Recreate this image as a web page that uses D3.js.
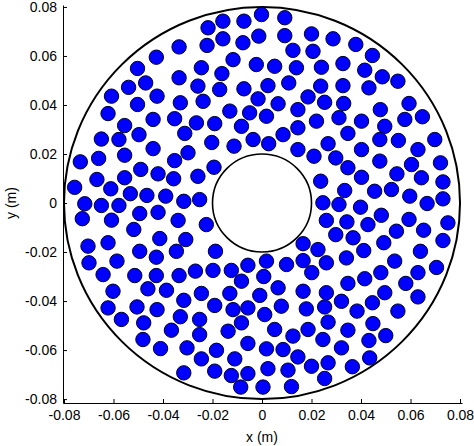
<!DOCTYPE html>
<html>
<head>
<meta charset="utf-8">
<script src="https://cdn.jsdelivr.net/npm/d3@7"></script>
<style>
  body { margin: 0; background: #fff; }
  svg { display: block; }
  .tick text, .label { font-family: "Liberation Sans", Arial, sans-serif; font-size: 14px; fill: #000; }
</style>
</head>
<body>
<svg id="chart" width="474" height="446"></svg>
<script>
// particle centres (m)
const px = [
  -0.0335,-0.0427,-0.0503,-0.0335,-0.0470,-0.0539,-0.0608,-0.0424,-0.0503,-0.0330,
  -0.0622,-0.0440,-0.0353,-0.0555,-0.0312,-0.0497,-0.0649,-0.0578,-0.0265,-0.0734,
  -0.0660,-0.0555,-0.0440,-0.0353,-0.0299,-0.0490,-0.0420,-0.0667,-0.0555,-0.0357,
  -0.0757,-0.0611,-0.0532,-0.0465,-0.0389,-0.0316,-0.0716,-0.0649,-0.0578,-0.0494,
  -0.0420,-0.0726,-0.0608,-0.0339,-0.0518,-0.0413,-0.0308,-0.0703,-0.0622,-0.0494,
  -0.0346,-0.0427,-0.0699,-0.0586,-0.0642,-0.0514,-0.0427,-0.0335,-0.0602,-0.0461,
  -0.0386,-0.0316,-0.0622,-0.0505,-0.0424,-0.0330,-0.0568,-0.0478,-0.0366,-0.0481,
  -0.0410,-0.0303,-0.0316,-0.0218,-0.0158,-0.0073,-0.0002, 0.0092,-0.0222,-0.0158,
  -0.0077,-0.0013, 0.0092, 0.0200,-0.0117,-0.0023, 0.0051, 0.0125, 0.0206,-0.0245,
  -0.0162, 0.0139, 0.0240,-0.0259,-0.0171,-0.0073, 0.0024, 0.0108, 0.0237,-0.0238,
  -0.0016, 0.0065, 0.0186, 0.0253,-0.0130,-0.0050, 0.0018, 0.0145,-0.0191,-0.0083,
   0.0220, 0.0085, 0.0145,-0.0203,-0.0113,-0.0036, 0.0027, 0.0145, 0.0210, 0.0267,
  -0.0259,-0.0194, 0.0237,-0.0252, 0.0246,-0.0225, 0.0260, 0.0166, 0.0226,-0.0188,
   0.0018,-0.0057, 0.0099, 0.0166, 0.0260,-0.0198,-0.0124, 0.0007, 0.0201,-0.0083,
   0.0065,-0.0245,-0.0130,-0.0009, 0.0166, 0.0260,-0.0191,-0.0117,-0.0057, 0.0078,
   0.0179, 0.0253,-0.0252,-0.0083, 0.0011, 0.0267,-0.0137, 0.0051, 0.0186, 0.0125,
  -0.0252,-0.0057, 0.0246,-0.0184, 0.0018, 0.0085, 0.0145,-0.0245,-0.0110, 0.0200,
   0.0267,-0.0191,-0.0124,-0.0057, 0.0024, 0.0105, 0.0253,-0.0086, 0.0004, 0.0119,
   0.0287, 0.0379, 0.0446, 0.0327, 0.0415, 0.0486, 0.0549, 0.0327, 0.0432, 0.0330,
   0.0594, 0.0478, 0.0311, 0.0402, 0.0577, 0.0648, 0.0496, 0.0347, 0.0476, 0.0551,
   0.0698, 0.0630, 0.0402, 0.0298, 0.0476, 0.0604, 0.0721, 0.0347, 0.0402, 0.0545,
   0.0644, 0.0731, 0.0334, 0.0455, 0.0523, 0.0597, 0.0731, 0.0667, 0.0311, 0.0398,
   0.0482, 0.0594, 0.0751, 0.0343, 0.0428, 0.0543, 0.0653, 0.0298, 0.0368, 0.0492,
   0.0731, 0.0411, 0.0640, 0.0341, 0.0536, 0.0705, 0.0480, 0.0630, 0.0415, 0.0347,
   0.0581, 0.0496, 0.0630, 0.0321, 0.0446, 0.0384, 0.0549, 0.0448, 0.0347, 0.0500,
   0.0432, 0.0321, 0.0435, 0.0365,-0.0269
];
const py = [
   0.0637, 0.0595, 0.0549, 0.0511, 0.0490, 0.0472, 0.0436, 0.0436, 0.0402, 0.0409,
   0.0365, 0.0341, 0.0344, 0.0316, 0.0284, 0.0279, 0.0261, 0.0259, 0.0327, 0.0168,
   0.0182, 0.0195, 0.0222, 0.0173, 0.0205, 0.0137, 0.0119, 0.0096, 0.0103, 0.0099,
   0.0064, 0.0058, 0.0038, 0.0031, 0.0028, 0.0007,-0.0003,-0.0010,-0.0010,-0.0043,
  -0.0038,-0.0064,-0.0070,-0.0071,-0.0108,-0.0145,-0.0149,-0.0176,-0.0162,-0.0197,
  -0.0197,-0.0221,-0.0244,-0.0237,-0.0292,-0.0296,-0.0296,-0.0296,-0.0360,-0.0350,
  -0.0356,-0.0397,-0.0428,-0.0424,-0.0435,-0.0464,-0.0475,-0.0489,-0.0519,-0.0557,
  -0.0594,-0.0591,-0.0693, 0.0715, 0.0742, 0.0742, 0.0769, 0.0756, 0.0643, 0.0670,
   0.0654, 0.0681, 0.0683, 0.0690, 0.0585, 0.0565, 0.0558, 0.0623, 0.0619, 0.0552,
   0.0528, 0.0552, 0.0554, 0.0477, 0.0463, 0.0466, 0.0479, 0.0490, 0.0477, 0.0415,
   0.0425, 0.0405, 0.0433, 0.0411, 0.0375, 0.0368, 0.0354, 0.0381, 0.0324, 0.0313,
   0.0334, 0.0279, 0.0307, 0.0247, 0.0232, 0.0259, 0.0242, 0.0218, 0.0191, 0.0242,
   0.0109, 0.0146, 0.0089, 0.0014, 0.0001,-0.0088,-0.0071,-0.0166,-0.0190,-0.0197,
  -0.0237,-0.0254,-0.0251,-0.0235,-0.0244,-0.0275,-0.0275,-0.0300,-0.0284,-0.0319,
  -0.0346,-0.0369,-0.0369,-0.0377,-0.0360,-0.0366,-0.0418,-0.0435,-0.0428,-0.0421,
  -0.0432,-0.0424,-0.0475,-0.0489,-0.0455,-0.0486,-0.0523,-0.0516,-0.0516,-0.0543,
  -0.0537,-0.0573,-0.0557,-0.0601,-0.0595,-0.0598,-0.0628,-0.0636,-0.0636,-0.0666,
  -0.0652,-0.0686,-0.0704,-0.0696,-0.0676,-0.0682,-0.0716,-0.0751,-0.0751,-0.0749,
   0.0670, 0.0647, 0.0602, 0.0569, 0.0542, 0.0515, 0.0497, 0.0479, 0.0470, 0.0406,
   0.0406, 0.0381, 0.0348, 0.0334, 0.0341, 0.0352, 0.0313, 0.0284, 0.0259, 0.0255,
   0.0259, 0.0218, 0.0218, 0.0184, 0.0171, 0.0157, 0.0164, 0.0144, 0.0105, 0.0119,
   0.0103, 0.0086, 0.0051, 0.0048, 0.0055, 0.0028, 0.0017,-0.0002,-0.0006,-0.0017,
  -0.0050,-0.0067,-0.0081,-0.0077,-0.0088,-0.0115,-0.0111,-0.0129,-0.0142,-0.0162,
  -0.0153,-0.0194,-0.0197,-0.0224,-0.0237,-0.0263,-0.0284,-0.0284,-0.0309,-0.0328,
  -0.0328,-0.0366,-0.0383,-0.0401,-0.0407,-0.0441,-0.0441,-0.0492,-0.0519,-0.0541,
  -0.0561,-0.0591,-0.0632,-0.0668,-0.0278
];
const ringRadii = [0.08, 0.02];   // outer wall, inner core
const xTicks = [-0.08, -0.06, -0.04, -0.02, 0, 0.02, 0.04, 0.06, 0.08];
const yTicks = [-0.08, -0.06, -0.04, -0.02, 0, 0.02, 0.04, 0.06, 0.08];

const svg = d3.select("#chart");

const x = d3.scaleLinear().domain([-0.0804, 0.0808]).range([63, 462]);
const y = d3.scaleLinear().domain([-0.0816, 0.0808]).range([403, 5]);

const fmt = d => d === 0 ? "0" : d.toFixed(2);

// axes (matlab style, ticks inward)
svg.append("g")
  .attr("transform", `translate(0,${y.range()[0]})`)
  .call(d3.axisBottom(x).tickValues(xTicks).tickFormat(fmt).tickSizeInner(-4).tickSizeOuter(0).tickPadding(7))
  .call(g => g.selectAll("path, line").attr("stroke", "#000"));

svg.append("g")
  .attr("transform", `translate(${x.range()[0]},0)`)
  .call(d3.axisLeft(y).tickValues(yTicks).tickFormat(fmt).tickSizeInner(-4).tickSizeOuter(0).tickPadding(6))
  .call(g => g.selectAll("path, line").attr("stroke", "#000"));

svg.append("text").attr("class", "label")
  .attr("x", x(0)).attr("y", 442)
  .attr("text-anchor", "middle")
  .text("x (m)");

svg.append("text").attr("class", "label")
  .attr("transform", `translate(16,${y(0)}) rotate(-90)`)
  .attr("text-anchor", "middle")
  .text("y (m)");

// boundaries
svg.append("g").selectAll("ellipse")
  .data(ringRadii)
  .join("ellipse")
  .attr("cx", x(0))
  .attr("cy", y(0))
  .attr("rx", d => x(d) - x(0))
  .attr("ry", d => y(0) - y(d))
  .attr("fill", "none")
  .attr("stroke", "#000")
  .attr("stroke-width", (d, i) => i === 0 ? 2 : 1.6);

// particles
const pts = px.map((v, i) => ({ x: v, y: py[i] }));
svg.append("g").selectAll("circle")
  .data(pts)
  .join("circle")
  .attr("cx", d => x(d.x))
  .attr("cy", d => y(d.y))
  .attr("r", 7.2)
  .attr("fill", "#0000ff")
  .attr("stroke", "#00002a")
  .attr("stroke-width", 1);
</script>
</body>
</html>
